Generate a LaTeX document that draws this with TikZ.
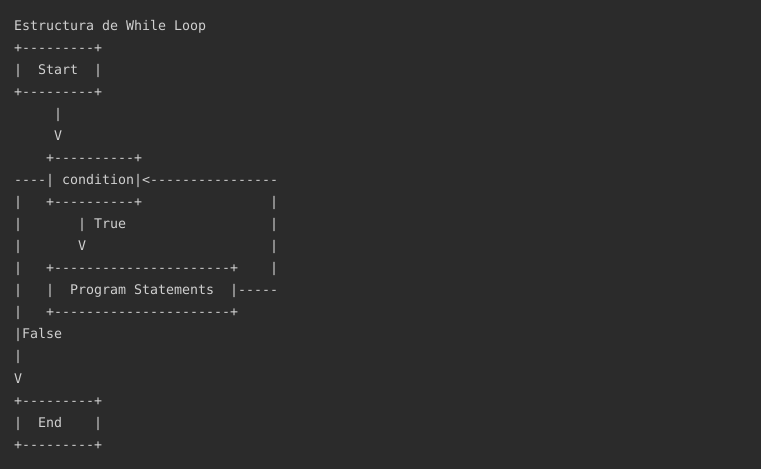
\documentclass[tikz,border=0pt]{standalone}
\usepackage{fontspec}
\setmonofont{DejaVu Sans Mono}
\definecolor{bgc}{HTML}{2B2B2B}
\definecolor{txt}{HTML}{D0D0D0}
\tikzset{
  asc/.style={anchor=base west, inner sep=0pt, outer sep=0pt, text=txt,
    font=\ttfamily\fontsize{13.3bp}{22bp}\selectfont}
}
% column c -> x = 14 + 8c ; row r -> baseline y = 31 + 22r
\newcommand{\at}[2]{({14+8*(#2)},{31+22*(#1)})}
\begin{document}
\begin{tikzpicture}[x=1bp,y=-1bp]
\fill[bgc] (0,0) rectangle (761,469);
\useasboundingbox (0,0) rectangle (761,469);
\node[asc] (title) at \at{0}{0} {Estructura de While Loop};
\node[asc] (st1) at \at{1}{0} {+---------+};
\node[asc] (st2a) at \at{2}{0} {|};
\node[asc] (st2b) at \at{2}{3} {Start};
\node[asc] (st2c) at \at{2}{10} {|};
\node[asc] (st3) at \at{3}{0} {+---------+};
\node[asc] (a1) at \at{4}{5} {|};
\node[asc] (a2) at \at{5}{5} {V};
\node[asc] (c1) at \at{6}{4} {+----------+};
\node[asc] (c2) at \at{7}{0} {----| condition|<----------------};
\node[asc] (r8a) at \at{8}{0} {|};
\node[asc] (c3) at \at{8}{4} {+----------+};
\node[asc] (r8c) at \at{8}{32} {|};
\node[asc] (r9a) at \at{9}{0} {|};
\node[asc] (tr) at \at{9}{8} {| True};
\node[asc] (r9c) at \at{9}{32} {|};
\node[asc] (r10a) at \at{10}{0} {|};
\node[asc] (tv) at \at{10}{8} {V};
\node[asc] (r10c) at \at{10}{32} {|};
\node[asc] (r11a) at \at{11}{0} {|};
\node[asc] (p1) at \at{11}{4} {+----------------------+};
\node[asc] (r11c) at \at{11}{32} {|};
\node[asc] (r12a) at \at{12}{0} {|};
\node[asc] (p2a) at \at{12}{4} {|};
\node[asc] (p2b) at \at{12}{7} {Program Statements};
\node[asc] (p2c) at \at{12}{27} {|-----};
\node[asc] (r13a) at \at{13}{0} {|};
\node[asc] (p3) at \at{13}{4} {+----------------------+};
\node[asc] (fa) at \at{14}{0} {|False};
\node[asc] (f2) at \at{15}{0} {|};
\node[asc] (f3) at \at{16}{0} {V};
\node[asc] (e1) at \at{17}{0} {+---------+};
\node[asc] (e2a) at \at{18}{0} {|};
\node[asc] (e2b) at \at{18}{3} {End};
\node[asc] (e2c) at \at{18}{10} {|};
\node[asc] (e3) at \at{19}{0} {+---------+};
\end{tikzpicture}
\end{document}
